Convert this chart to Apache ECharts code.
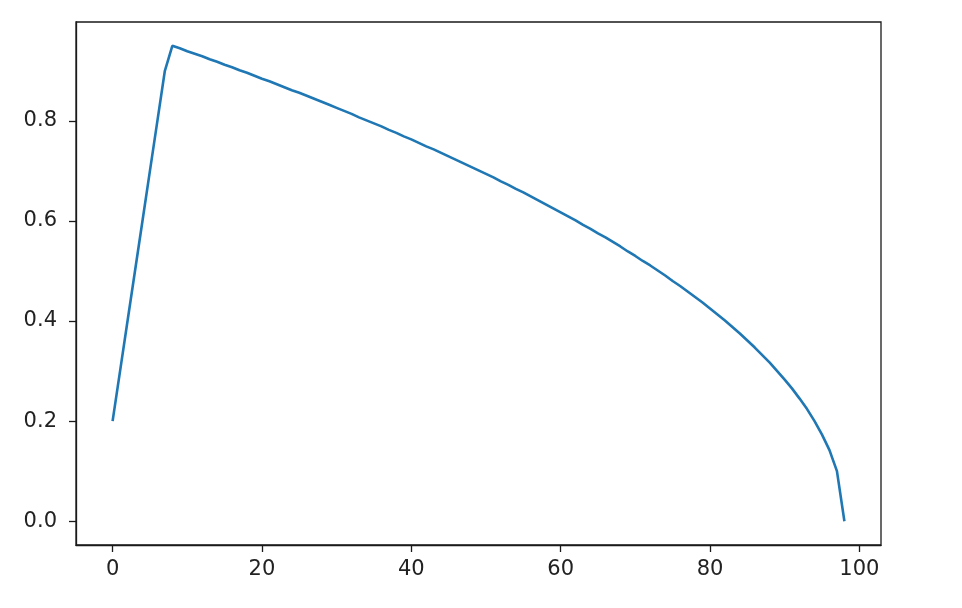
<!DOCTYPE html>
<html>
<head>
<meta charset="utf-8">
<script src="https://cdn.jsdelivr.net/npm/echarts@6/dist/echarts.min.js"></script>
<style>
html,body{margin:0;padding:0;background:#fff;}
#chart{width:962px;height:608px;}
</style>
</head>
<body>
<div id="chart"></div>
<script>
const xValues = [0,1,2,3,4,5,6,7,8,9,10,11,12,13,14,15,16,17,18,19,20,21,22,23,24,25,26,27,28,29,30,31,32,33,34,35,36,37,38,39,40,41,42,43,44,45,46,47,48,49,50,51,52,53,54,55,56,57,58,59,60,61,62,63,64,65,66,67,68,69,70,71,72,73,74,75,76,77,78,79,80,81,82,83,84,85,86,87,88,89,90,91,92,93,94,95,96,97,98];
const yValues = [0.2,0.3,0.4,0.5,0.6,0.7,0.8,0.9,0.95,
  0.945,0.939,0.934,0.929,0.923,0.918,0.912,0.907,0.901,0.896,0.890,
  0.884,0.879,0.873,0.867,0.861,0.856,0.850,0.844,0.838,0.832,
  0.826,0.820,0.814,0.807,0.801,0.795,0.789,0.782,0.776,0.769,
  0.763,0.756,0.749,0.743,0.736,0.729,0.722,0.715,0.708,0.701,
  0.694,0.687,0.679,0.672,0.664,0.657,0.649,0.641,0.633,0.625,
  0.617,0.609,0.601,0.592,0.584,0.575,0.567,0.558,0.549,0.539,
  0.530,0.520,0.511,0.501,0.491,0.480,0.470,0.459,0.448,0.437,
  0.425,0.413,0.401,0.388,0.375,0.361,0.347,0.332,0.317,0.300,
  0.283,0.265,0.245,0.224,0.200,0.173,0.142,0.100,0];
const xTicks = [0,20,40,60,80,100];
const yTicks = [0,0.2,0.4,0.6,0.8];

const chart = echarts.init(document.getElementById('chart'), null, {renderer:'canvas'});
const seriesData = xValues.map((x,i)=>[x, yValues[i]]);
const fontFamily = 'DejaVu Sans';
chart.setOption({
  animation:false,
  backgroundColor:'#fff',
  grid:{left:76,right:81,top:22,bottom:63,show:true,borderColor:'#1a1a1a',borderWidth:1.3,backgroundColor:'transparent'},
  xAxis:{
    type:'value',min:-4.9,max:102.9,
    splitLine:{show:false},
    axisLine:{show:true,onZero:false,lineStyle:{color:'#1a1a1a',width:1.3}},
    axisTick:{show:true,length:7,customValues:xTicks,lineStyle:{color:'#1a1a1a',width:1.3}},
    axisLabel:{customValues:xTicks,color:'#222',fontFamily:fontFamily,fontSize:21,margin:14,formatter:v=>String(Math.round(v))}
  },
  yAxis:{
    type:'value',min:-0.0475,max:0.9975,
    splitLine:{show:false},
    axisLine:{show:true,onZero:false,lineStyle:{color:'#1a1a1a',width:1.3}},
    axisTick:{show:true,length:7,customValues:yTicks,lineStyle:{color:'#1a1a1a',width:1.3}},
    axisLabel:{customValues:yTicks,color:'#222',fontFamily:fontFamily,fontSize:21,margin:19,padding:[4,0,0,0],formatter:v=>v.toFixed(1)}
  },
  series:[{
    type:'line',data:seriesData,showSymbol:false,symbol:'none',
    lineStyle:{color:'#1f77b4',width:2.6},
    clip:false
  }]
});
</script>
</body>
</html>
